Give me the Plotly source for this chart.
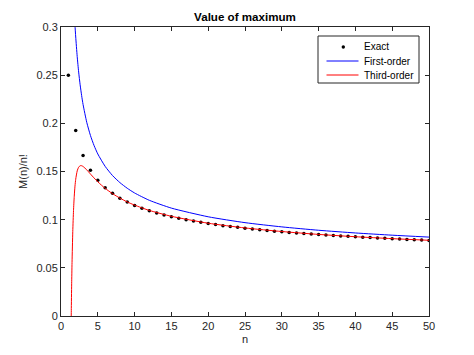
import plotly.graph_objects as go

# Exact values M(n)/n!
n_exact = list(range(1, 51))
m_exact = [0.2500, 0.1925, 0.1667, 0.1513, 0.1409, 0.1331, 0.1273, 0.1223, 0.1183, 0.1148,
           0.1118, 0.1092, 0.1069, 0.1049, 0.1031, 0.1014, 0.0999, 0.0985, 0.0972, 0.0960,
           0.0949, 0.0938, 0.0929, 0.0920, 0.0911, 0.0903, 0.0895, 0.0888, 0.0881, 0.0874,
           0.0868, 0.0862, 0.0856, 0.0851, 0.0846, 0.0841, 0.0836, 0.0831, 0.0827, 0.0822,
           0.0818, 0.0814, 0.0810, 0.0806, 0.0802, 0.0799, 0.0795, 0.0792, 0.0788, 0.0785]

# First-order approximation
n_first = [1.8, 1.85, 1.9, 2.0, 2.2, 2.4, 2.6, 2.8, 3.0, 3.5, 4.0, 4.5, 5, 6, 7, 8, 9, 10,
           12, 15, 20, 25, 30, 35, 40, 45, 50]
m_first = [0.3158, 0.3085, 0.3018, 0.2896, 0.2694, 0.2532, 0.2400, 0.2290, 0.2195, 0.2010,
           0.1874, 0.1768, 0.1682, 0.1553, 0.1458, 0.1385, 0.1326, 0.1277,
           0.1201, 0.1120, 0.1030, 0.0969, 0.0925, 0.0890, 0.0862, 0.0839, 0.0819]

# Third-order approximation
n_third = [1.39, 1.4, 1.45, 1.5, 1.6, 1.7, 1.8, 1.9, 2.0, 2.2, 2.4, 2.6, 2.8, 3.0, 3.5, 4.0,
           4.5, 5, 6, 7, 8, 9, 10, 12, 15, 20, 25, 30, 35, 40, 45, 50]
m_third = [0.0, 0.0059, 0.0335, 0.0555, 0.0878, 0.1095, 0.1244, 0.1348, 0.1420, 0.1506,
           0.1545, 0.1560, 0.1560, 0.1552, 0.1517, 0.1474,
           0.1432, 0.1393, 0.1325, 0.1270, 0.1224, 0.1184, 0.1151, 0.1096, 0.1035, 0.0963,
           0.0914, 0.0877, 0.0847, 0.0823, 0.0803, 0.0786]

x_ticks = [0, 5, 10, 15, 20, 25, 30, 35, 40, 45, 50]
y_ticks = [0, 0.05, 0.1, 0.15, 0.2, 0.25, 0.3]
y_tick_labels = ["0", "0.05", "0.1", "0.15", "0.2", "0.25", "0.3"]

series_names = ["Exact", "First-order", "Third-order"]
series_colors = ["black", "#0000ff", "#ff0000"]

FONT = "Liberation Sans, Arial, Helvetica, sans-serif"
AX = "#262626"

fig = go.Figure()
fig.add_trace(go.Scatter(x=n_exact, y=m_exact, mode="markers", name=series_names[0],
                         marker=dict(color=series_colors[0], size=3.5)))
fig.add_trace(go.Scatter(x=n_first, y=m_first, mode="lines", name=series_names[1],
                         line=dict(color=series_colors[1], width=1, shape="spline", smoothing=0.6)))
fig.add_trace(go.Scatter(x=n_third, y=m_third, mode="lines", name=series_names[2],
                         line=dict(color=series_colors[2], width=1, shape="spline", smoothing=0.6)))

axis_common = dict(showline=True, linecolor=AX, linewidth=1, mirror="allticks",
                   ticks="inside", ticklen=4, tickcolor=AX, tickwidth=1,
                   showgrid=False, zeroline=False,
                   tickfont=dict(family=FONT, size=11, color=AX))

# Plot area in pixels (page): x 61..429, y 27..316
PW, PH = 368.0, 289.0
def px(xp):
    return (xp - 61) / PW
def py(yp):
    return (316 - yp) / PH

# Custom legend (compact rows like the original)
shapes = [dict(type="rect", xref="paper", yref="paper",
               x0=px(318), x1=px(419), y0=py(83), y1=py(36),
               line=dict(color=AX, width=1), fillcolor="white", layer="above")]
annotations = []
row_y = [47, 61, 75]
for i, name in enumerate(series_names):
    yy = row_y[i]
    if i == 0:
        shapes.append(dict(type="circle", xref="paper", yref="paper",
                           x0=px(341.6), x1=px(345.0), y0=py(48.7), y1=py(45.3),
                           line=dict(width=0), fillcolor="black", layer="above"))
    else:
        shapes.append(dict(type="line", xref="paper", yref="paper",
                           x0=px(326.5), x1=px(358.5), y0=py(yy), y1=py(yy),
                           line=dict(color=series_colors[i], width=1), layer="above"))
    annotations.append(dict(text=name, xref="paper", yref="paper", x=px(361.5), y=py(yy),
                            xanchor="left", yanchor="middle", showarrow=False,
                            font=dict(family=FONT, size=10, color="black")))

fig.update_layout(
    width=474, height=355,
    margin=dict(l=53, r=53, t=19, b=47),
    paper_bgcolor="white", plot_bgcolor="white",
    showlegend=False,
    title=dict(text="<b>Value of maximum</b>", x=0.5, xanchor="center",
               xref="paper", y=0.976, yanchor="middle",
               font=dict(family=FONT, size=11.6, color="black")),
    xaxis=dict(range=[0, 50], tickvals=x_ticks,
               title=dict(text="n", font=dict(family=FONT, size=11, color=AX), standoff=4),
               **axis_common),
    yaxis=dict(range=[0, 0.3], tickvals=y_ticks, ticktext=y_tick_labels,
               title=dict(text="M(n)/n!", font=dict(family=FONT, size=11, color=AX), standoff=6),
               **axis_common),
    shapes=shapes,
    annotations=annotations,
)

fig.write_html("out.html")
